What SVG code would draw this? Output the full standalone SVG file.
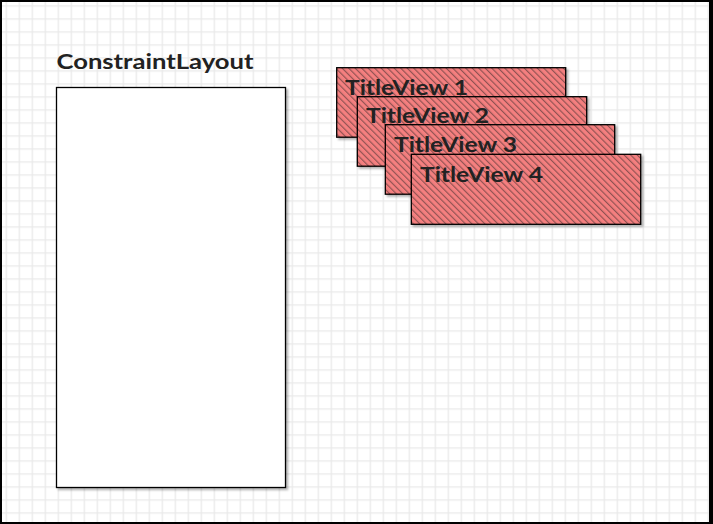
<svg xmlns="http://www.w3.org/2000/svg" width="713" height="524" viewBox="0 0 713 524">
<defs>
<pattern id="grid" patternUnits="userSpaceOnUse" x="5.65" y="5.35" width="13" height="13">
<path d="M0.65 0V13M0 0.65H13" stroke="#e9e9e9" stroke-width="1.3" fill="none"/>
</pattern>
<pattern id="hatch" patternUnits="userSpaceOnUse" width="4.6" height="4.6" patternTransform="rotate(-45)">
<rect width="4.6" height="4.6" fill="#f47f7f"/>
<path d="M0.6 0V4.6" stroke="#8b4f4f" stroke-width="1.1"/>
</pattern>
<filter id="shadow" x="-10%" y="-10%" width="120%" height="120%">
<feDropShadow dx="2" dy="2" stdDeviation="1.2" flood-color="#000" flood-opacity="0.3"/>
</filter>
<style>
.lbl{font-family:Lato,"Open Sans","Liberation Sans",sans-serif;font-weight:bold;fill:#222;}
.tv{fill:url(#hatch);stroke:#000;stroke-width:1.3;filter:url(#shadow);}
</style>
</defs>
<rect x="0" y="0" width="713" height="524" fill="#000"/>
<rect x="2" y="2" width="707" height="520" fill="#fff"/>
<rect x="2" y="2" width="707" height="520" fill="url(#grid)"/>
<g id="constraintlayout">
<text class="lbl" x="56.5" y="68.5" font-size="21.5" textLength="197" lengthAdjust="spacingAndGlyphs">ConstraintLayout</text>
<rect x="56.5" y="87.5" width="229" height="400" fill="#fff" stroke="#000" stroke-width="1.3" filter="url(#shadow)"/>
</g>
<g id="titleview1">
<rect class="tv" x="336.7" y="67.7" width="229" height="69.5"/>
<text class="lbl" x="345" y="95" font-size="21" textLength="123" lengthAdjust="spacingAndGlyphs">TitleView 1</text>
</g>
<g id="titleview2">
<rect class="tv" x="357.3" y="96.7" width="229.4" height="69.5"/>
<text class="lbl" x="366" y="123.3" font-size="21" textLength="123" lengthAdjust="spacingAndGlyphs">TitleView 2</text>
</g>
<g id="titleview3">
<rect class="tv" x="385.3" y="124.7" width="229.4" height="69.5"/>
<text class="lbl" x="394" y="151.7" font-size="21" textLength="123" lengthAdjust="spacingAndGlyphs">TitleView 3</text>
</g>
<g id="titleview4">
<rect class="tv" x="411.3" y="154.3" width="229.4" height="70"/>
<text class="lbl" x="420" y="182.3" font-size="21" textLength="123" lengthAdjust="spacingAndGlyphs">TitleView 4</text>
</g>
<g id="connectors"/>
</svg>
